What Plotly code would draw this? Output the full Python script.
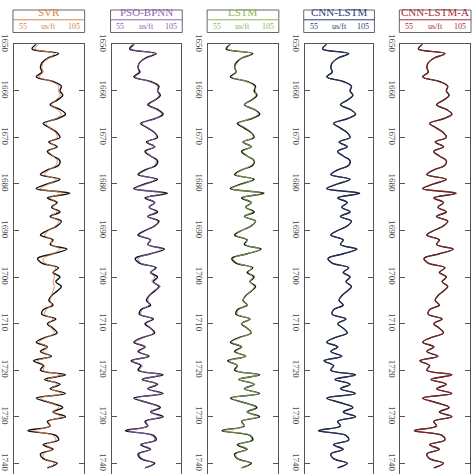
import plotly.graph_objects as go

depth = list(range(1650, 1742))

measured = [71, 68, 87, 79, 75, 74, 75, 71, 83, 89,
            88, 90, 86, 81, 88, 92, 86, 76, 81, 86,
            88, 80, 86, 79, 83, 88, 87, 79, 74, 88,
            79, 71, 95, 79, 86, 82, 88, 81, 89, 86,
            79, 74, 83, 81, 93, 83, 72, 75, 87, 83,
            88, 85, 89, 86, 82, 80, 83, 76, 75, 85,
            79, 83, 86, 77, 71, 79, 74, 82, 69, 76,
            74, 92, 77, 88, 81, 92, 71, 81, 90, 83,
            92, 79, 81, 65, 85, 87, 76, 83, 74, 76,
            86, 79]

svr = [73, 70, 84, 80, 76, 75, 76, 73, 82, 87,
       87, 88, 85, 82, 86, 89, 85, 78, 81, 85,
       86, 81, 85, 80, 83, 86, 85, 80, 77, 85,
       80, 74, 90, 81, 85, 83, 86, 82, 87, 85,
       80, 77, 82, 82, 88, 83, 76, 77, 85, 83,
       84, 83, 84, 83, 82, 81, 82, 78, 77, 83,
       80, 82, 84, 78, 73, 79, 76, 81, 72, 77,
       76, 88, 79, 86, 82, 89, 74, 81, 87, 83,
       89, 80, 81, 70, 83, 85, 78, 82, 76, 77,
       84, 80]

pso_bpnn = [72, 69, 85, 80, 75, 74, 76, 72, 82, 88,
            88, 89, 86, 82, 87, 91, 86, 77, 81, 86,
            87, 81, 86, 80, 83, 87, 86, 80, 75, 86,
            80, 72, 92, 80, 86, 82, 87, 81, 88, 86,
            80, 75, 83, 81, 91, 83, 74, 76, 86, 83,
            86, 84, 90, 85, 82, 81, 82, 77, 76, 84,
            80, 83, 85, 78, 72, 79, 75, 81, 70, 77,
            75, 90, 78, 87, 81, 90, 73, 81, 89, 83,
            90, 80, 81, 67, 84, 86, 77, 83, 75, 77,
            85, 79]

lstm = [71, 69, 86, 79, 76, 74, 75, 72, 83, 88,
        89, 89, 86, 81, 88, 91, 85, 77, 82, 86,
        87, 80, 86, 80, 83, 88, 86, 79, 75, 87,
        80, 72, 93, 80, 86, 82, 87, 81, 89, 86,
        79, 75, 83, 82, 92, 83, 73, 76, 86, 84,
        87, 85, 88, 86, 82, 80, 83, 77, 76, 85,
        79, 83, 86, 78, 72, 79, 75, 82, 70, 76,
        75, 91, 77, 88, 81, 91, 72, 81, 89, 83,
        91, 79, 81, 66, 85, 86, 77, 83, 75, 76,
        85, 79]

cnn_lstm = [71, 68, 86, 79, 75, 74, 75, 71, 83, 89,
            88, 90, 86, 81, 88, 92, 86, 76, 81, 86,
            88, 80, 86, 79, 83, 88, 87, 79, 74, 88,
            79, 71, 94, 79, 86, 82, 88, 81, 89, 86,
            79, 74, 83, 81, 92, 83, 72, 75, 87, 83,
            88, 85, 89, 86, 82, 80, 83, 76, 75, 85,
            79, 83, 86, 77, 71, 79, 74, 82, 69, 76,
            74, 92, 77, 88, 81, 92, 71, 81, 90, 83,
            92, 79, 81, 66, 85, 87, 76, 83, 74, 76,
            86, 79]

cnn_lstm_a = [71, 68, 87, 79, 75, 74, 75, 71, 83, 89,
              88, 90, 86, 81, 88, 92, 86, 76, 81, 86,
              88, 80, 86, 79, 83, 88, 87, 79, 74, 88,
              79, 71, 95, 79, 86, 82, 88, 81, 89, 86,
              79, 74, 83, 81, 93, 83, 72, 75, 87, 83,
              88, 85, 89, 86, 82, 80, 83, 76, 75, 85,
              79, 83, 86, 77, 71, 79, 74, 82, 69, 76,
              74, 92, 77, 88, 81, 92, 71, 81, 90, 83,
              92, 79, 81, 65, 85, 87, 76, 83, 74, 76,
              86, 79]

models = ["SVR", "PSO-BPNN", "LSTM", "CNN-LSTM", "CNN-LSTM-A"]
predictions = [svr, pso_bpnn, lstm, cnn_lstm, cnn_lstm_a]
colors = ["#d9824b", "#8e5fb0", "#8db45a", "#2a3a7a", "#a82a2a"]
track_px = [(12, 82), (110, 180), (207, 277), (304, 373), (400, 470)]

W = H = 474
fig = go.Figure()
shapes, annotations = [], []
font = "Liberation Serif"


def py(px):
    # pixel row from the top -> paper y (renderer sits a few px low)
    return min(1, 1 - (px - 7) / H)


for i, (name, pred, col, (x0, x1)) in enumerate(zip(models, predictions, colors, track_px)):
    n = "" if i == 0 else str(i + 1)
    fig.add_trace(go.Scatter(x=measured, y=depth, mode="lines", line=dict(color="#111", width=1.4, shape="spline"),
                             xaxis="x" + n, yaxis="y" + n, showlegend=False))
    fig.add_trace(go.Scatter(x=pred, y=depth, mode="lines", line=dict(color=col, width=1.0, shape="spline"),
                             xaxis="x" + n, yaxis="y" + n, showlegend=False, opacity=0.9))
    fig.update_layout(**{
        "xaxis" + n: dict(domain=[x0 / W, x1 / W], range=[55, 105], showticklabels=False, showgrid=False,
                          zeroline=False, showline=True, linecolor="#555", mirror=True, anchor="y" + n),
        "yaxis" + n: dict(domain=[0, py(42)], range=[1742.3, 1650], showgrid=False, zeroline=False,
                          showline=True, linecolor="#555", mirror="ticks", ticks="inside", ticklen=5,
                          tickcolor="#555", dtick=10, tick0=1650, tickangle=90,
                          tickfont=dict(family=font, size=9, color="#444"), anchor="x" + n),
    })
    # header box
    xa, xb = (x0 - 1) / W, (x1 + 1) / W
    shapes.append(dict(type="rect", xref="paper", yref="paper", x0=xa, x1=xb, y0=py(30), y1=py(0),
                       line=dict(color="#666", width=1)))
    shapes.append(dict(type="line", xref="paper", yref="paper", x0=xa, x1=xb, y0=py(17), y1=py(17),
                       line=dict(color=col, width=1)))
    annotations.append(dict(text=name, x=(xa + xb) / 2, y=py(9), xref="paper", yref="paper",
                            xanchor="center", yanchor="middle",
                            showarrow=False, font=dict(family=font, size=11, color=col)))
    for txt, xp in (("55", x0 + 9), ("us/ft", (x0 + x1) / 2), ("105", x1 - 10)):
        annotations.append(dict(text=txt, x=xp / W, y=py(24), xref="paper", yref="paper",
                                xanchor="center", yanchor="middle",
                                showarrow=False, font=dict(family=font, size=8, color=col)))

fig.update_layout(width=W, height=H, margin=dict(l=0, r=0, t=0, b=0), paper_bgcolor="white",
                  plot_bgcolor="white", shapes=shapes, annotations=annotations)
fig.write_html("out.html", config={"displayModeBar": False},
               post_script="document.body.style.margin='0';")
